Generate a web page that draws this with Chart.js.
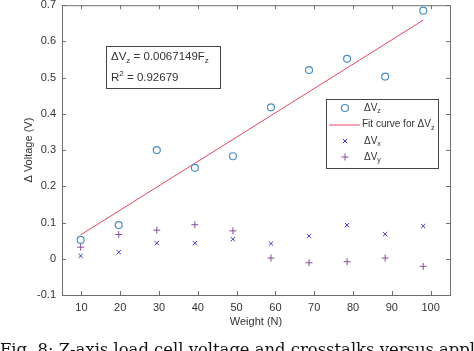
<!DOCTYPE html>
<html>
<head>
<meta charset="utf-8">
<script src="https://cdn.jsdelivr.net/npm/chart.js@4/dist/chart.umd.min.js"></script>
<style>
  html, body { margin: 0; padding: 0; background: #fff; overflow: hidden; }
  #wrap { position: relative; width: 474px; height: 351px; overflow: hidden; }
  #caption {
    position: absolute; left: 0; top: 340px; white-space: nowrap; line-height: 20px;
    font-family: "DejaVu Serif", "Liberation Serif", serif; font-size: 16.4px; color: #111;
  }
</style>
</head>
<body>
<div id="wrap">
  <canvas id="chart" width="474" height="351"></canvas>
  <div id="caption">Fig. 8: Z-axis load cell voltage and crosstalks versus applied</div>
</div>
<script>
  // weights (N)
  var weights = [9.81, 19.62, 29.43, 39.24, 49.05, 58.86, 68.67, 78.48, 88.29, 98.1];
  var dVz = [0.052, 0.093, 0.300, 0.251, 0.283, 0.418, 0.521, 0.552, 0.503, 0.685];
  var dVx = [0.008, 0.018, 0.043, 0.043, 0.054, 0.042, 0.063, 0.093, 0.068, 0.090];
  var dVy = [0.032, 0.067, 0.079, 0.094, 0.077, 0.002, -0.011, -0.008, 0.002, -0.021];
  var fitX = [9.81, 98.1];
  var fitY = [0.0659, 0.6587];
  var xTicks = [10, 20, 30, 40, 50, 60, 70, 80, 90, 100];
  var yTicks = [-0.1, 0, 0.1, 0.2, 0.3, 0.4, 0.5, 0.6, 0.7];

  var FONT = '"Liberation Sans", Arial, sans-serif';
  var TEXT = '#333333';
  var AXIS = '#6e6e6e';

  function pts(xs, ys) {
    return xs.map(function (x, i) { return { x: x, y: ys[i] }; });
  }

  // draws text with sub/superscripts, parts = [[text, 'n'|'sub'|'sup'], ...]
  function richText(ctx, parts, x, y, size) {
    parts.forEach(function (p) {
      var s = p[1] === 'n' ? size : size * 0.7;
      var dy = p[1] === 'sub' ? size * 0.35 : (p[1] === 'sup' ? -size * 0.4 : 0);
      ctx.font = s + 'px ' + FONT;
      ctx.fillText(p[0], x, y + dy);
      x += ctx.measureText(p[0]).width;
    });
  }

  var boxPlugin = {
    id: 'matlabBox',
    afterDatasetsDraw: function (chart) {
      var ctx = chart.ctx, a = chart.chartArea;
      var xs = chart.scales.x, ys = chart.scales.y;
      ctx.save();
      ctx.strokeStyle = AXIS;
      ctx.lineWidth = 1;
      ctx.strokeRect(a.left + 0.5, a.top + 0.5, a.right - a.left, a.bottom - a.top);
      ctx.beginPath();
      xTicks.forEach(function (v) {
        var px = Math.round(xs.getPixelForValue(v)) + 0.5;
        ctx.moveTo(px, a.bottom); ctx.lineTo(px, a.bottom - 4);
        ctx.moveTo(px, a.top); ctx.lineTo(px, a.top + 4);
      });
      yTicks.forEach(function (v) {
        var py = Math.round(ys.getPixelForValue(v)) + 0.5;
        ctx.moveTo(a.left, py); ctx.lineTo(a.left + 4, py);
        ctx.moveTo(a.right, py); ctx.lineTo(a.right - 4, py);
      });
      ctx.stroke();

      // axis titles
      ctx.fillStyle = TEXT;
      ctx.font = '11px ' + FONT;
      ctx.textAlign = 'center';
      ctx.textBaseline = 'middle';
      ctx.fillText('Weight (N)', (a.left + a.right) / 2, 322);
      ctx.save();
      ctx.translate(29, (a.top + a.bottom) / 2);
      ctx.rotate(-Math.PI / 2);
      ctx.fillText('\u0394 Voltage (V)', 0, 0);
      ctx.restore();

      // equation box
      ctx.textAlign = 'left';
      ctx.fillStyle = '#fff';
      ctx.fillRect(106, 46, 114, 42);
      ctx.strokeStyle = '#444';
      ctx.strokeRect(106.5, 46.5, 114, 42);
      ctx.fillStyle = TEXT;
      richText(ctx, [['\u0394V', 'n'], ['z', 'sub'], [' = 0.0067149F', 'n'], ['z', 'sub']], 111, 57, 11.5);
      richText(ctx, [['R', 'n'], ['2', 'sup'], [' = 0.92679', 'n']], 111, 78, 11.5);

      // legend
      ctx.fillStyle = '#fff';
      ctx.fillRect(326, 99, 112, 69);
      ctx.strokeStyle = '#444';
      ctx.strokeRect(326.5, 99.5, 112, 69);
      var ds = chart.data.datasets;
      var rows = [108, 124.5, 141, 157];
      var labels = [
        [['\u0394V', 'n'], ['z', 'sub']],
        [['Fit curve for \u0394V', 'n'], ['z', 'sub']],
        [['\u0394V', 'n'], ['x', 'sub']],
        [['\u0394V', 'n'], ['y', 'sub']]
      ];
      [0, 1, 2, 3].forEach(function (i, r) {
        var d = ds[i];
        var y = rows[r];
        if (i === 1) {
          ctx.strokeStyle = d.borderColor;
          ctx.lineWidth = 1;
          ctx.beginPath();
          ctx.moveTo(329, y + 0.5); ctx.lineTo(360, y + 0.5);
          ctx.stroke();
        } else {
          ctx.lineWidth = d.borderWidth;
          ctx.strokeStyle = d.borderColor;
          ctx.fillStyle = 'rgba(0,0,0,0)';
          Chart.helpers.drawPoint(ctx, {
            pointStyle: d.pointStyle, radius: d.pointRadius, borderWidth: d.borderWidth
          }, 345, y);
        }
        ctx.fillStyle = TEXT;
        ctx.textBaseline = 'middle';
        richText(ctx, labels[r], i === 1 ? 362 : 364, y, 10);
      });
      ctx.restore();
    }
  };

  var ctx = document.getElementById('chart').getContext('2d');
  var chart = new Chart(ctx, {
    type: 'scatter',
    data: {
      datasets: [
        {
          label: '\u0394Vz',
          data: pts(weights, dVz),
          pointStyle: 'circle',
          pointRadius: 3.5,
          borderWidth: 1.2,
          borderColor: '#4a8fc4',
          backgroundColor: 'rgba(0,0,0,0)'
        },
        {
          label: 'Fit curve for \u0394Vz',
          type: 'line',
          data: pts(fitX, fitY),
          borderColor: '#e5475f',
          borderWidth: 1,
          pointRadius: 0,
          fill: false
        },
        {
          label: '\u0394Vx',
          data: pts(weights, dVx),
          pointStyle: 'crossRot',
          pointRadius: 3,
          borderWidth: 1,
          borderColor: '#3c3cc8',
          backgroundColor: 'rgba(0,0,0,0)'
        },
        {
          label: '\u0394Vy',
          data: pts(weights, dVy),
          pointStyle: 'cross',
          pointRadius: 3.5,
          borderWidth: 1,
          borderColor: '#8a4b9c',
          backgroundColor: 'rgba(0,0,0,0)'
        }
      ]
    },
    options: {
      responsive: false,
      animation: false,
      devicePixelRatio: 1,
      layout: { padding: { top: 5, right: 24, left: 0, bottom: 0 } },
      plugins: { legend: { display: false }, tooltip: { enabled: false } },
      scales: {
        x: {
          type: 'linear', min: 5, max: 105,
          grid: { display: false, drawTicks: false }, border: { display: false },
          ticks: { font: { family: FONT, size: 11 }, color: TEXT, padding: 6, maxRotation: 0 },
          afterBuildTicks: function (s) { s.ticks = xTicks.map(function (v) { return { value: v }; }); },
          afterFit: function (s) { s.height = 56; s.paddingLeft = 0; s.paddingRight = 0; }
        },
        y: {
          type: 'linear', min: -0.1, max: 0.7,
          grid: { display: false, drawTicks: false }, border: { display: false },
          ticks: {
            font: { family: FONT, size: 11 }, color: TEXT, padding: 6,
            callback: function (v) { return String(Math.round(v * 10) / 10); }
          },
          afterBuildTicks: function (s) { s.ticks = yTicks.map(function (v) { return { value: v }; }); },
          afterFit: function (s) { s.width = 62; s.paddingTop = 0; s.paddingBottom = 0; }
        }
      }
    },
    plugins: [boxPlugin]
  });
</script>
</body>
</html>
